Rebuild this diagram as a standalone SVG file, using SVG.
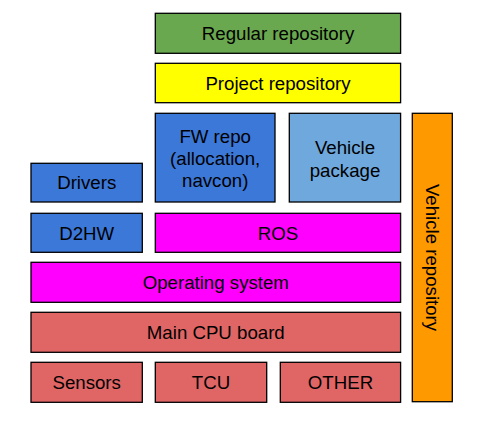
<svg xmlns="http://www.w3.org/2000/svg" width="481" height="422" viewBox="0 0 481 422">
<style>
rect{stroke:#000;stroke-width:1.3}
text{font-family:"Liberation Sans",Arial,sans-serif;font-size:18.67px;fill:#000;text-anchor:middle}
.g{fill:#6aa84f}.y{fill:#ffff00}.b{fill:#3c78d8}.lb{fill:#6fa8dc}.m{fill:#ff00ff}.r{fill:#e06666}.o{fill:#ff9900}
</style>
<rect width="481" height="422" fill="#fff" style="stroke:none"/>
<g id="regular"><rect class="g" x="155.3" y="13.3" width="245.3" height="40"/><text x="278" y="40">Regular repository</text></g>
<g id="project"><rect class="y" x="155.3" y="63.3" width="245.3" height="39.4"/><text x="278" y="89.7">Project repository</text></g>
<g id="fwrepo"><rect class="b" x="155.3" y="113.3" width="119.7" height="88.7"/><text x="215.2" y="142.7">FW repo</text><text x="215.2" y="165">(allocation,</text><text x="215.2" y="187.3">navcon)</text></g>
<g id="vehpkg"><rect class="lb" x="289.3" y="113.3" width="111.3" height="88.7"/><text x="345" y="154.3">Vehicle</text><text x="345" y="176.7">package</text></g>
<g id="drivers"><rect class="b" x="31" y="163.3" width="111.3" height="38.7"/><text x="86.7" y="189.4">Drivers</text></g>
<g id="d2hw"><rect class="b" x="31" y="213.3" width="111.3" height="39"/><text x="86.7" y="239.5">D2HW</text></g>
<g id="ros"><rect class="m" x="155.3" y="213.3" width="245.3" height="39"/><text x="278" y="239.5">ROS</text></g>
<g id="os"><rect class="m" x="31" y="262.3" width="369.6" height="40"/><text x="215.8" y="289">Operating system</text></g>
<g id="cpu"><rect class="r" x="31" y="312.3" width="369.6" height="40"/><text x="215.8" y="339">Main CPU board</text></g>
<g id="sensors"><rect class="r" x="31" y="362.3" width="111.3" height="40"/><text x="86.7" y="389">Sensors</text></g>
<g id="tcu"><rect class="r" x="155.3" y="362.3" width="111.4" height="40"/><text x="211" y="389">TCU</text></g>
<g id="other"><rect class="r" x="280.3" y="362.3" width="120.3" height="40"/><text x="340.5" y="389">OTHER</text></g>
<g id="vehrepo"><rect class="o" x="412.3" y="113.3" width="40" height="288.4"/><text transform="translate(425.6,257.5) rotate(90)" x="0" y="0">Vehicle repository</text></g>
<g id="connectors"></g>
</svg>
